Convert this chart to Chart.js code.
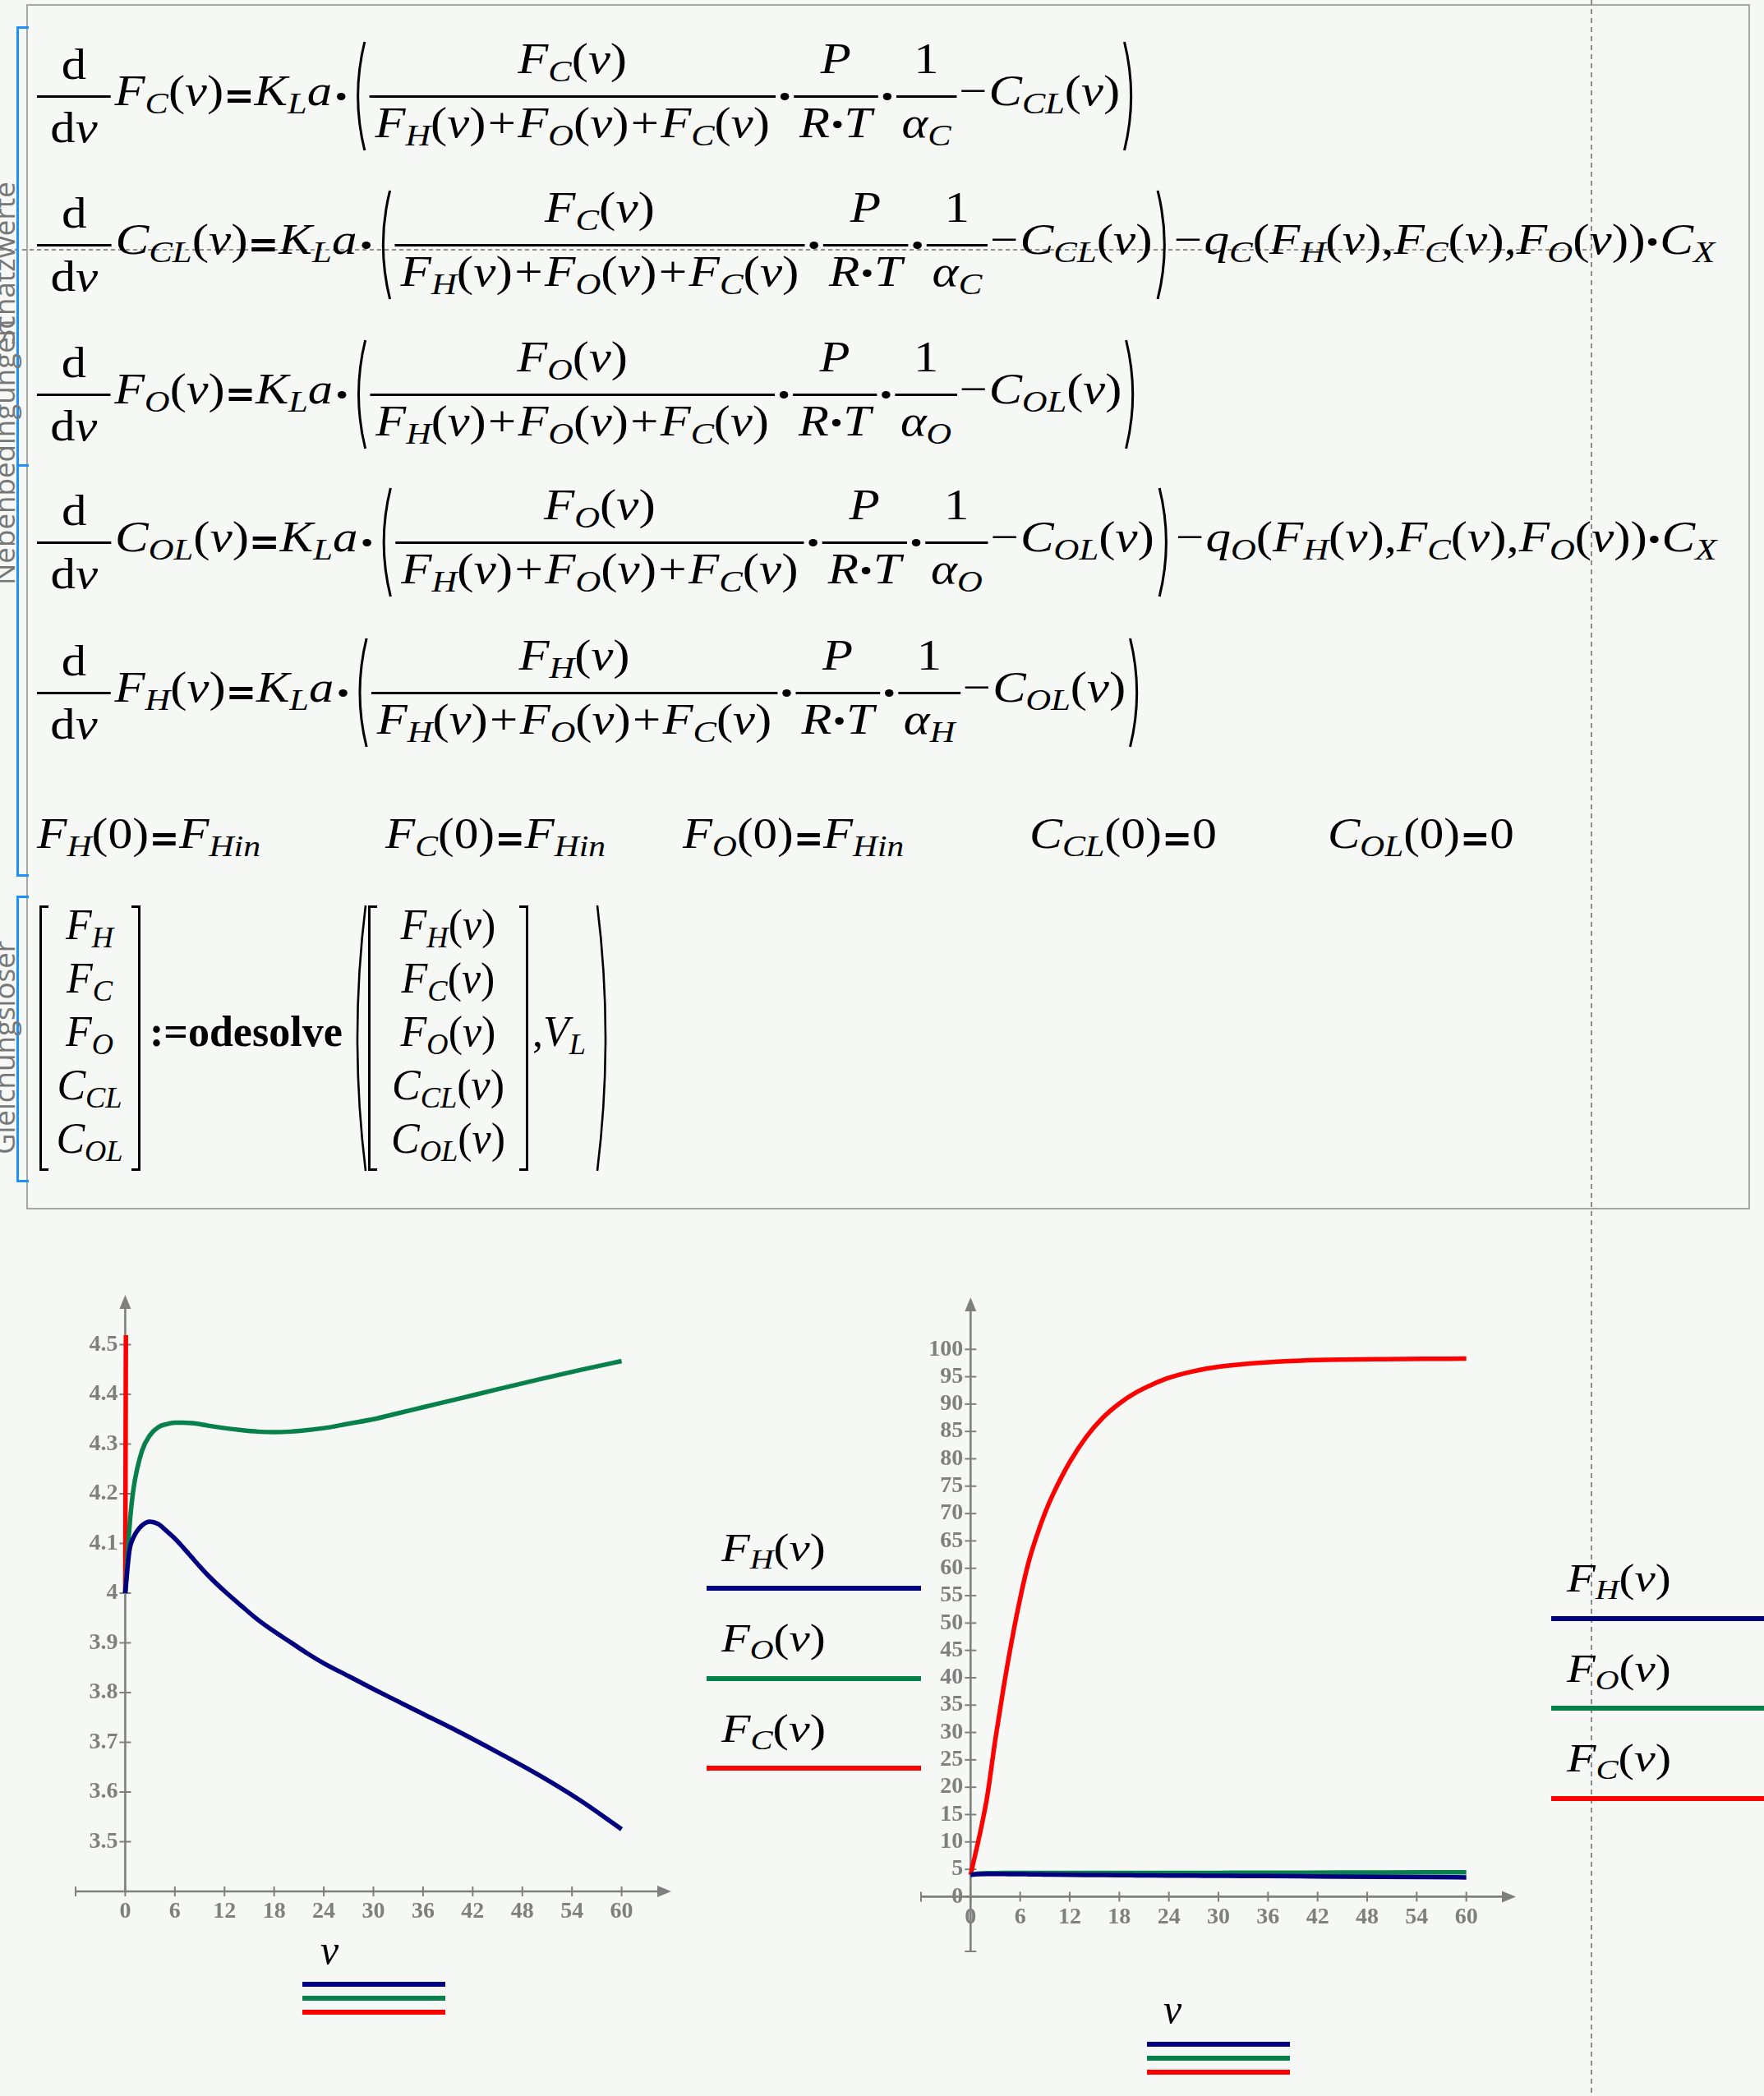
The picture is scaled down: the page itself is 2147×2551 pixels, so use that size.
<!DOCTYPE html>
<html><head><meta charset="utf-8">
<script src="https://cdn.jsdelivr.net/npm/chart.js@4.4.1/dist/chart.umd.min.js"></script>
<style>
html,body{margin:0;padding:0;background:#f5f8f5;}
body{width:2147px;height:2551px;position:relative;overflow:hidden;font-family:'Liberation Serif',serif;color:#000;}
.abs{position:absolute;}
.box{position:absolute;left:32px;top:5px;width:2098px;height:1467px;border:2px solid #a6a6a6;box-sizing:border-box;}
.row{position:absolute;left:45px;top:0;display:flex;align-items:center;white-space:nowrap;transform-origin:0 50%;font-size:52px;line-height:62px;}
.t{position:relative;top:-6px;}
sub{font-size:70%;line-height:0;vertical-align:-0.28em;font-style:italic;}
.frac{display:inline-flex;flex-direction:column;align-items:center;}
.frac .num{padding:0 6px 13px 6px;}
.frac .den{padding:0 6px 13px 6px;}
.frac.dd{margin-right:4px;}
.frac.dd .num{padding:0 14px 6px 14px;}
.frac.dd .den{padding:6px 14px 0 14px;}
.bar{height:3px;background:#000;align-self:stretch;}
.dot{display:inline-block;width:9px;height:9px;border-radius:50%;background:#000;margin:0 5px;}
.dot.in{vertical-align:0.2em;margin:0 3px;}
.op{margin:0 2px;}
.eq{display:inline-block;width:24px;height:15px;box-sizing:border-box;border-top:5px solid #000;border-bottom:5px solid #000;vertical-align:3px;margin:0 4px;}
.bp{display:block;margin:0 2px;}
.ic{position:absolute;white-space:nowrap;font-size:52px;line-height:65px;transform-origin:0 50%;}
.mcol{position:absolute;text-align:center;font-size:52px;line-height:65px;white-space:nowrap;}
.brk{position:absolute;border:3px solid #000;box-sizing:border-box;width:11px;}
.rot{position:absolute;transform-origin:0 0;transform:rotate(-90deg);font-family:'Open Sans',sans-serif;font-size:35px;line-height:35px;color:#777;white-space:nowrap;}
.blue{position:absolute;background:#1e8fff;}
.lg{position:absolute;font-size:48px;line-height:58px;white-space:nowrap;transform-origin:0 50%;}
.ln{position:absolute;height:6px;}
.vl{position:absolute;font-size:50px;line-height:60px;font-style:italic;}
.chartwrap{position:absolute;}
</style>
</head>
<body>
<div class="box"></div>
<!-- dashed guide lines -->
<div class="abs" style="left:0;top:303px;width:1937px;height:2px;background:repeating-linear-gradient(to right,#8f8f8f 0 5px,transparent 5px 9px);"></div>
<div class="abs" style="left:1936px;top:0;width:2px;height:2551px;background:repeating-linear-gradient(to bottom,#8c8c8c 0 6px,transparent 6px 11px);"></div>

<!-- region labels -->
<div class="blue" style="left:20px;top:33px;width:3px;height:1034px;"></div>
<div class="blue" style="left:20px;top:32px;width:15px;height:3px;"></div>
<div class="blue" style="left:20px;top:565px;width:15px;height:3px;"></div>
<div class="blue" style="left:20px;top:1064px;width:15px;height:3px;"></div>
<div class="blue" style="left:20px;top:1090px;width:3px;height:348px;"></div>
<div class="blue" style="left:20px;top:1090px;width:15px;height:3px;"></div>
<div class="blue" style="left:20px;top:1436px;width:15px;height:3px;"></div>
<div class="rot" style="left:-13px;top:712px;">Nebenbedingungen</div>
<div class="rot" style="left:-13px;top:420px;">Schätzwerte</div>
<div class="rot" style="left:-13px;top:1405px;">Gleichungslöser</div>

<div id="eqs"></div>

<div class="chartwrap" style="left:40px;top:1540px;width:820px;height:800px;"><canvas id="c1"></canvas></div>
<div class="chartwrap" style="left:1060px;top:1540px;width:820px;height:880px;"><canvas id="c2"></canvas></div>

<div id="legends"></div>

<script>
// ---------------- data ----------------
const vValues  = [0, 0.5, 1, 2, 3, 4, 5, 6, 7, 8, 9, 10, 12, 14, 16, 18, 20, 22, 24, 27, 30, 33, 36, 40, 45, 50, 55, 60];
const fHValues = [4.000, 4.085, 4.112, 4.136, 4.144, 4.139, 4.125, 4.110, 4.092, 4.073, 4.054, 4.036, 4.004, 3.975, 3.947, 3.923, 3.901, 3.879, 3.859, 3.833, 3.807, 3.782, 3.757, 3.724, 3.680, 3.634, 3.583, 3.525];
const fOValues = [4.000, 4.130, 4.210, 4.285, 4.318, 4.334, 4.340, 4.343, 4.343, 4.342, 4.340, 4.337, 4.332, 4.328, 4.325, 4.324, 4.325, 4.328, 4.332, 4.341, 4.350, 4.362, 4.374, 4.390, 4.410, 4.430, 4.449, 4.467];
const fCValues = [4.0, 7.3, 10.6, 18.2, 28.8, 38.3, 46.9, 54.5, 61.0, 65.9, 70.1, 73.6, 79.4, 84.0, 87.5, 90.1, 92.1, 93.6, 94.8, 96.0, 96.8, 97.3, 97.65, 97.95, 98.12, 98.2, 98.26, 98.3];
const xTickValues = [0, 6, 12, 18, 24, 30, 36, 42, 48, 54, 60];
const xTickLabels = ['0','6','12','18','24','30','36','42','48','54','60'];
const yTickValuesLeft = [3.5, 3.6, 3.7, 3.8, 3.9, 4, 4.1, 4.2, 4.3, 4.4, 4.5];
const yTickLabelsLeft = ['3.5','3.6','3.7','3.8','3.9','4','4.1','4.2','4.3','4.4','4.5'];
const yTickValuesRight = [0,5,10,15,20,25,30,35,40,45,50,55,60,65,70,75,80,85,90,95,100];
const yTickLabelsRight = ['0','5','10','15','20','25','30','35','40','45','50','55','60','65','70','75','80','85','90','95','100'];
const seriesNames = ['H','O','C'];
const seriesColors = ['#000080', '#08804c', '#ff0000'];

// ---------------- math helpers ----------------
const EQ = '<span class="eq"></span>';
function fv(b, s, a){ return `<i>${b}</i><sub>${s}</sub>(${a===undefined?'<i>v</i>':a})`; }
function frac(n, d, cls){ return `<div class="frac ${cls||''}"><div class="num">${n}</div><div class="bar"></div><div class="den">${d}</div></div>`; }
const DOT = '<span class="dot"></span>';
const DOTIN = '<span class="dot in"></span>';
function bigParen(side){
  const d = side==='l' ? 'M13 2 Q-1 68 13 134' : 'M3 2 Q17 68 3 134';
  return `<svg class="bp" width="16" height="136" viewBox="0 0 16 136"><path d="${d}" fill="none" stroke="#000" stroke-width="2.6"/></svg>`;
}
function eqRow(lb, ls, nb, ns, al, cs, q){
  let h = frac('d', 'd<i>v</i>', 'dd');
  h += `<span class="t">${fv(lb,ls)}${EQ}<i>K</i><sub>L</sub><i>a</i></span>` + DOT + bigParen('l');
  h += frac(fv(nb,ns), fv('F','H')+'<span class="op">+</span>'+fv('F','O')+'<span class="op">+</span>'+fv('F','C'));
  h += DOT + frac('<i>P</i>', '<i>R</i>'+DOTIN+'<i>T</i>') + DOT + frac('1', `<i>α</i><sub>${al}</sub>`);
  h += `<span class="t"><span class="op">−</span>${fv('C',cs)}</span>` + bigParen('r');
  if (q) h += `<span class="t"><span class="op">−</span><i>q</i><sub>${q}</sub>(${fv('F','H')},${fv('F','C')},${fv('F','O')})${DOTIN}<i>C</i><sub>X</sub></span>`;
  return h;
}
const rows = [
  {y:117, w:1341, html: eqRow('F','C','F','C','C','CL')},
  {y:298, w:2042, html: eqRow('C','CL','F','C','C','CL','C')},
  {y:480, w:1343, html: eqRow('F','O','F','O','O','OL')},
  {y:660, w:2044, html: eqRow('C','OL','F','O','O','OL','O')},
  {y:843, w:1348, html: eqRow('F','H','F','H','H','OL')}
];
let eh = '';
rows.forEach((r,i)=>{ eh += `<div class="row" id="row${i}">${r.html}</div>`; });
// initial conditions (baseline 1032)
const ics = [
  {x:45,  w:272, h: fv('F','H','0')+EQ+'<i>F</i><sub>Hin</sub>'},
  {x:469, w:268, h: fv('F','C','0')+EQ+'<i>F</i><sub>Hin</sub>'},
  {x:831, w:269, h: fv('F','O','0')+EQ+'<i>F</i><sub>Hin</sub>'},
  {x:1253,w:228, h: fv('C','CL','0')+EQ+'0'},
  {x:1616,w:227, h: fv('C','OL','0')+EQ+'0'}
];
ics.forEach((c,i)=>{ eh += `<div class="ic fitw" data-w="${c.w}" style="left:${c.x}px;top:982px;">${c.h}</div>`; });
// odesolve block
eh += `<div class="brk" style="left:48px;top:1102px;height:323px;border-right:none;"></div>`;
eh += `<div class="brk" style="left:160px;top:1102px;height:323px;border-left:none;"></div>`;
eh += `<div class="mcol" style="left:58px;width:102px;top:1093px;"><i>F</i><sub>H</sub><br><i>F</i><sub>C</sub><br><i>F</i><sub>O</sub><br><i>C</i><sub>CL</sub><br><i>C</i><sub>OL</sub></div>`;
eh += `<div class="ic" style="left:182px;top:1223px;font-weight:bold;">:=odesolve</div>`;
eh += `<svg class="abs" style="left:428px;top:1100px;" width="20" height="327" viewBox="0 0 20 327"><path d="M17 2 Q-3 163 17 325" fill="none" stroke="#000" stroke-width="2.6"/></svg>`;
eh += `<div class="brk" style="left:448px;top:1102px;height:323px;border-right:none;"></div>`;
eh += `<div class="brk" style="left:632px;top:1102px;height:323px;border-left:none;"></div>`;
eh += `<div class="mcol" style="left:459px;width:173px;top:1093px;">${fv('F','H')}<br>${fv('F','C')}<br>${fv('F','O')}<br>${fv('C','CL')}<br>${fv('C','OL')}</div>`;
eh += `<div class="ic" style="left:648px;top:1223px;">,<i>V</i><sub>L</sub></div>`;
eh += `<svg class="abs" style="left:724px;top:1100px;" width="20" height="327" viewBox="0 0 20 327"><path d="M3 2 Q23 163 3 325" fill="none" stroke="#000" stroke-width="2.6"/></svg>`;
document.getElementById('eqs').innerHTML = eh;

// legends
let lh = '';
const legL = {lx:878, base:[1900,2010,2120], line:[1933,2043,2152], x1:860, x2:1121};
const legR = {lx:1907, base:[1937,2047,2156], line:[1970,2079,2189], x1:1888, x2:2147};
[legL, legR].forEach(L=>{
  seriesNames.forEach((n,i)=>{
    lh += `<div class="lg fitw" data-w="127" style="left:${L.lx}px;top:${L.base[i]-45}px;">${fv('F',n)}</div>`;
    lh += `<div class="ln" style="left:${L.x1}px;width:${L.x2-L.x1}px;top:${L.line[i]-3}px;background:${seriesColors[i]};"></div>`;
  });
});
lh += `<div class="vl" style="left:390px;top:${2390-47}px;">v</div>`;
lh += `<div class="vl" style="left:1416px;top:${2462-47}px;">v</div>`;
[[368,542,[2415,2432,2449]],[1396,1570,[2488,2505,2522]]].forEach(b=>{
  b[2].forEach((y,i)=>{ lh += `<div class="ln" style="left:${b[0]}px;width:${b[1]-b[0]}px;top:${y-3}px;background:${seriesColors[i]};"></div>`; });
});
document.getElementById('legends').innerHTML = lh;

function fit(){
  rows.forEach((r,i)=>{
    const el = document.getElementById('row'+i);
    el.style.transform = 'none';
    const s = r.w / el.offsetWidth;
    el.style.top = (r.y - el.offsetHeight/2) + 'px';
    el.style.transform = `scaleX(${s})`;
  });
  document.querySelectorAll('.fitw').forEach(el=>{
    el.style.transform = 'none';
    const s = parseFloat(el.dataset.w) / el.offsetWidth;
    el.style.transform = `scaleX(${s})`;
  });
}
fit();
if (document.fonts && document.fonts.ready) document.fonts.ready.then(fit);

// ---------------- charts ----------------
const mathcadAxes = {
  id: 'mathcadAxes',
  beforeDatasetsDraw(chart, args, o){
    const ctx = chart.ctx, xs = chart.scales.x, ys = chart.scales.y;
    const X = v => xs.getPixelForValue(v), Y = v => ys.getPixelForValue(v);
    const ax = X(0), ay = Y(o.xAxisAt);
    ctx.save();
    ctx.strokeStyle = o.color; ctx.fillStyle = o.color;
    // labels
    ctx.font = o.font; ctx.textBaseline = 'middle';
    ctx.textAlign = 'center';
    o.xTicks.forEach((v,i)=>ctx.fillText(o.xLabels[i], X(v), ay + o.xGap));
    ctx.textAlign = 'right';
    o.yTicks.forEach((v,i)=>ctx.fillText(o.yLabels[i], ax - o.yGap, Y(v)));
    // axes
    ctx.lineWidth = 2.6;
    ctx.beginPath(); ctx.moveTo(X(xs.min), ay); ctx.lineTo(X(xs.max)-12, ay); ctx.stroke();
    ctx.beginPath(); ctx.moveTo(X(xs.max), ay); ctx.lineTo(X(xs.max)-17, ay-7); ctx.lineTo(X(xs.max)-17, ay+7); ctx.closePath(); ctx.fill();
    ctx.beginPath(); ctx.moveTo(ax, Y(ys.min)); ctx.lineTo(ax, Y(ys.max)+12); ctx.stroke();
    ctx.beginPath(); ctx.moveTo(ax, Y(ys.max)); ctx.lineTo(ax-7, Y(ys.max)+17); ctx.lineTo(ax+7, Y(ys.max)+17); ctx.closePath(); ctx.fill();
    // ticks
    ctx.lineWidth = 2;
    [xs.min].concat(o.xTicks).forEach(v=>{ ctx.beginPath(); ctx.moveTo(X(v), ay-6); ctx.lineTo(X(v), ay+6); ctx.stroke(); });
    (o.yEndTick ? [ys.min].concat(o.yTicks) : o.yTicks).forEach(v=>{ ctx.beginPath(); ctx.moveTo(ax-7, Y(v)); ctx.lineTo(ax+7, Y(v)); ctx.stroke(); });
    ctx.restore();
  }
};
function ds(vals, color, extra){
  return Object.assign({
    data: vValues.map((v,i)=>({x:v, y:vals[i]})),
    borderColor: color, borderWidth: 5.5, pointRadius: 0, fill: false,
    cubicInterpolationMode: 'monotone'
  }, extra || {});
}
function makeChart(id, ymin, ymax, pad, yTicks, yLabels, xAxisAt, yEndTick, redClip){
  return new Chart(document.getElementById(id), {
    type: 'line',
    data: { datasets: [
      ds(fHValues, seriesColors[0]),
      ds(fOValues, seriesColors[1]),
      ds(fCValues, seriesColors[2], redClip ? {clip: redClip} : {})
    ]},
    options: {
      responsive: true, maintainAspectRatio: false, animation: false,
      layout: { padding: pad },
      scales: {
        x: { type: 'linear', display: false, min: -6, max: 66 },
        y: { type: 'linear', display: false, min: ymin, max: ymax }
      },
      plugins: {
        legend: { display: false }, tooltip: { enabled: false },
        mathcadAxes: {
          color: '#7f7f7f', font: "bold 28px 'Liberation Serif'",
          xTicks: xTickValues, xLabels: xTickLabels,
          yTicks: yTicks, yLabels: yLabels,
          xAxisAt: xAxisAt, yEndTick: yEndTick, xGap: 25, yGap: 9
        }
      }
    },
    plugins: [mathcadAxes]
  });
}
makeChart('c1', 3.4, 4.6, {left:52, right:43, top:36, bottom:38}, yTickValuesLeft, yTickLabelsLeft, 3.4, false, {left:5, right:5, top:-49, bottom:5});
makeChart('c2', -10, 109.5, {left:61, right:35, top:39, bottom:45}, yTickValuesRight, yTickLabelsRight, 0, true, null);
</script>
</body></html>
